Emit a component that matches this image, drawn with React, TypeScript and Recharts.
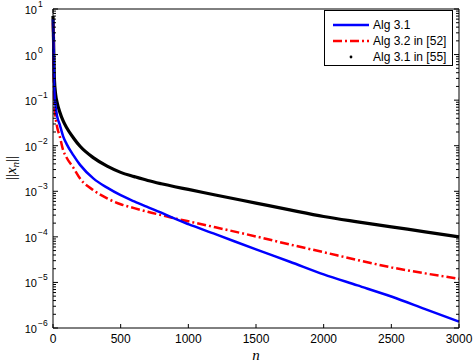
import { LineChart, Line, XAxis, YAxis } from 'recharts'

// iteration index n and ||x_n|| for each algorithm
const N = [0, 5, 10, 20, 30, 50, 75, 100, 150, 200, 300, 400, 500, 600, 700, 800, 900, 1000, 1200, 1500, 1750, 2000, 2250, 2500, 2750, 3000]
const alg31 = [6, 0.9, 0.15, 0.07, 0.045, 0.029, 0.016, 0.011, 0.0062, 0.0038, 0.0019, 0.0012, 0.00082, 0.0006, 0.00045, 0.00034, 0.00025, 0.00019, 0.000115, 5.3e-5, 2.85e-5, 1.5e-5, 8.6e-6, 4.9e-6, 2.6e-6, 1.38e-6]
const alg32in52 = [5, 0.5, 0.08, 0.04, 0.026, 0.016, 0.008, 0.0055, 0.0033, 0.0019, 0.00105, 0.0007, 0.00052, 0.000427, 0.000355, 0.0003, 0.000254, 0.000219, 0.000162, 0.000102, 6.8e-5, 4.6e-5, 3.1e-5, 2.14e-5, 1.58e-5, 1.2e-5]
const alg31in55 = [7, 1.5, 0.3, 0.13, 0.09, 0.055, 0.035, 0.025, 0.015, 0.0097, 0.0054, 0.00355, 0.0026, 0.0021, 0.00172, 0.00146, 0.00126, 0.0011, 0.00083, 0.00055, 0.00039, 0.00028, 0.000214, 0.000166, 0.000129, 0.0001]

const xTicks = [0, 500, 1000, 1500, 2000, 2500, 3000]
const decades = [-6, -5, -4, -3, -2, -1, 0, 1]

const yTicks: number[] = []
decades.forEach(k => {
  yTicks.push(Math.pow(10, k))
  if (k < 1) for (let m = 2; m <= 9; m++) yTicks.push(m * Math.pow(10, k))
})

const data = N.map((n, i) => ({ n, a: alg31[i], b: alg32in52[i], c: alg31in55[i] }))

const FONT = '"Liberation Sans", Arial, sans-serif'

const isMajor = (v: number) => Math.abs(Math.log10(v) - Math.round(Math.log10(v))) < 1e-6

const LeftTick = ({ x, y, payload }: any) => {
  const v = payload.value
  const major = isMajor(v)
  const exp = Math.round(Math.log10(v))
  return (
    <g>
      <line x1={x} x2={x + (major ? 5 : 3)} y1={y} y2={y} stroke="#000" />
      {major && (
        <>
          <text x={x - 16} y={y + 5} textAnchor="end" fontSize={11} fontFamily={FONT} fill="#000">10</text>
          <text x={x - 15} y={y - 2} textAnchor="start" fontSize={8.5} fontFamily={FONT} fill="#000">{exp < 0 ? '\u2212' + -exp : exp}</text>
        </>
      )}
    </g>
  )
}

const RightTick = ({ x, y, payload }: any) => {
  const major = isMajor(payload.value)
  return <line x1={x} x2={x - (major ? 5 : 3)} y1={y} y2={y} stroke="#000" />
}

const BottomTick = ({ x, y, payload }: any) => (
  <g>
    <line x1={x} x2={x} y1={y} y2={y - 4} stroke="#000" />
    <text x={x} y={y + 15} textAnchor="middle" fontSize={12} fontFamily={FONT} fill="#000">{payload.value}</text>
  </g>
)

const TopTick = ({ x, y }: any) => <line x1={x} x2={x} y1={y} y2={y + 4} stroke="#000" />

const YLabel = () => (
  <text transform="translate(16,168) rotate(-90)" textAnchor="middle" fontSize={15} fontFamily='"Liberation Serif", serif' fill="#000">
    ||<tspan fontStyle="italic">x</tspan><tspan fontStyle="italic" fontSize={11} dy={3}>n</tspan><tspan dy={-3}>||</tspan>
  </text>
)

const XLabel = () => (
  <text x={256} y={360} textAnchor="middle" fontSize={15} fontStyle="italic" fontFamily='"Liberation Serif", serif' fill="#000">n</text>
)

const legendItems = [
  { name: 'Alg 3.1', kind: 'solid' },
  { name: 'Alg 3.2 in [52]', kind: 'dashdot' },
  { name: 'Alg 3.1 in [55]', kind: 'dot' },
]

function LegendBox() {
  return (
    <div style={{ position: 'absolute', left: 324, top: 10, width: 127, height: 54, border: '1px solid #000', background: '#fff', fontFamily: FONT, fontSize: 12 }}>
      {legendItems.map((it, i) => (
        <div key={it.name} style={{ position: 'absolute', top: 6 + i * 16, left: 0, height: 16, display: 'flex', alignItems: 'center' }}>
          <svg width={48} height={16} style={{ display: 'block' }}>
            {it.kind === 'solid' && <line x1={8} x2={44} y1={8} y2={8} stroke="#0000ff" strokeWidth={2.5} />}
            {it.kind === 'dashdot' && <line x1={8} x2={44} y1={8} y2={8} stroke="#ff0000" strokeWidth={2.5} strokeDasharray="9 3 2 3" />}
            {it.kind === 'dot' && <circle cx={26} cy={8} r={1.4} fill="#000" />}
          </svg>
          <span style={{ lineHeight: '16px' }}>{it.name}</span>
        </div>
      ))}
    </div>
  )
}

export default function App() {
  return (
    <div style={{ position: 'absolute', left: 0, top: 0, width: 474, height: 362, background: '#fff' }}>
      <LineChart width={474} height={362} data={data} margin={{ top: 8, right: 14, bottom: 4, left: 8 }}>
        <XAxis dataKey="n" type="number" domain={[0, 3000]} ticks={xTicks} interval={0} tickSize={0} tickMargin={0}
          tickLine={false} axisLine={{ stroke: '#000' }} tick={<BottomTick />} height={30} />
        <XAxis xAxisId="top" orientation="top" type="number" domain={[0, 3000]} ticks={xTicks} interval={0} tickSize={0} tickMargin={0}
          tickLine={false} axisLine={{ stroke: '#000' }} tick={<TopTick />} height={1} />
        <YAxis scale="log" type="number" domain={[1e-6, 10]} allowDataOverflow ticks={yTicks} interval={0} tickSize={0} tickMargin={0}
          tickLine={false} axisLine={{ stroke: '#000' }} tick={<LeftTick />} width={45} />
        <YAxis yAxisId="right" orientation="right" scale="log" type="number" domain={[1e-6, 10]} allowDataOverflow ticks={yTicks} interval={0}
          tickSize={0} tickMargin={0} tickLine={false} axisLine={{ stroke: '#000' }} tick={<RightTick />} width={1} />
        <Line type="monotone" dataKey="c" stroke="#000" strokeWidth={3.2} dot={false} isAnimationActive={false} />
        <Line type="monotone" dataKey="b" stroke="#ff0000" strokeWidth={2.5} strokeDasharray="9 3 2 3" dot={false} isAnimationActive={false} />
        <Line type="monotone" dataKey="a" stroke="#0000ff" strokeWidth={2.5} dot={false} isAnimationActive={false} />
        <YLabel />
        <XLabel />
      </LineChart>
      <LegendBox />
    </div>
  )
}
